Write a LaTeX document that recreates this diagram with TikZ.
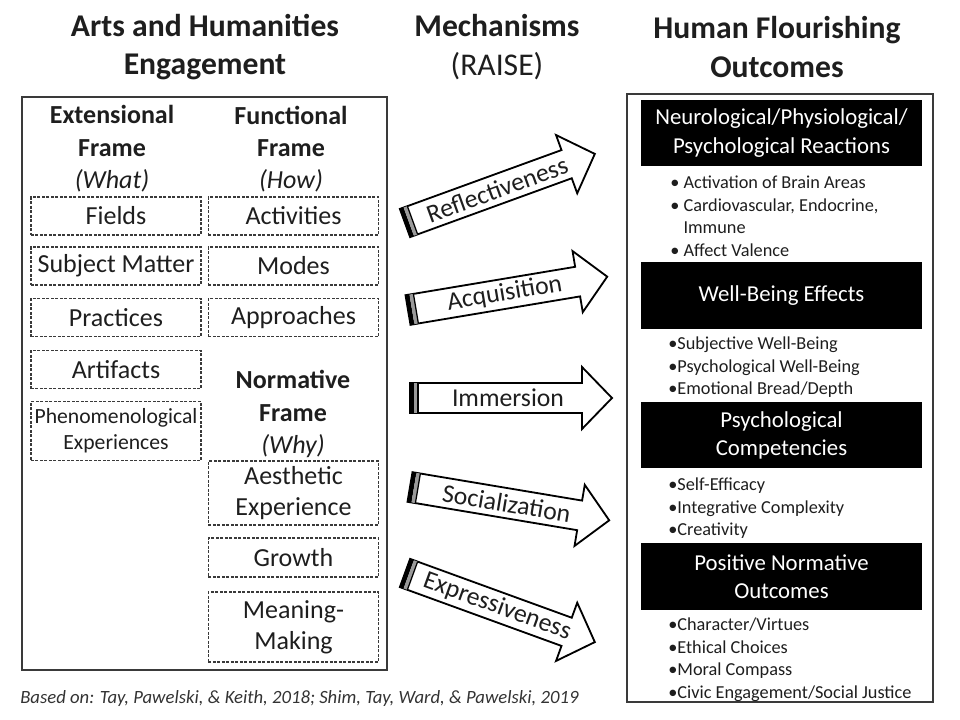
\documentclass[tikz,border=0pt]{standalone}
\usepackage{fontspec}
\setmainfont{Carlito}
\usetikzlibrary{positioning}
\definecolor{inkGrey}{HTML}{1e1e1e}
\definecolor{frameGrey}{HTML}{3a3a3a}
\definecolor{tapeGrey}{HTML}{9a9a9a}
\def\arrowL{202}
\def\shaftW{15}
\def\headW{31}
\def\headL{30}

\begin{document}
\begin{tikzpicture}[
    x=0.025cm, y=-0.025cm,
    every node/.style={inner sep=0pt, text=inkGrey},
    titletext/.style={font=\fontsize{22.5}{27.5}\selectfont\bfseries, align=center},
    framehead/.style={font=\fontsize{18.5}{23}\selectfont, align=center},
    outerbox/.style={draw=frameGrey, line width=1.3pt},
    itembox/.style={draw=frameGrey, line width=0.8pt, dash pattern=on 2pt off 1.2pt,
                    minimum width=4.25cm, minimum height=0.95cm, align=center,
                    font=\fontsize{18.5}{22}\selectfont},
    headbox/.style={fill=black, text=white, minimum width=7.025cm, minimum height=1.65cm,
                    align=center, font=\fontsize{16.2}{20}\selectfont},
    bulletlist/.style={anchor=north west, align=left, font=\fontsize{13}{16}\selectfont},
    blockarrow/.style={draw=black, fill=white, line width=1.3pt, line join=miter},
    mechtext/.style={font=\fontsize{18.3}{22}\selectfont},
    notetext/.style={font=\fontsize{13.3}{16}\selectfont\itshape, text=black!80},
    ]

\useasboundingbox (0,0) rectangle (960,720);

% ====================================================================
% Column titles
% ====================================================================
\node[titletext] (artsTitle)  at (205,47) {Arts and Humanities\\Engagement};
\node[titletext] (mechTitle)  at (497,47) {Mechanisms\\{\mdseries (RAISE)}};
\node[titletext] (flourTitle) at (777,47) {Human Flourishing\\Outcomes};

% ====================================================================
% Left panel — engagement frames
% ====================================================================
\draw[outerbox] (22,97) rectangle (387,670);

\node[framehead] (extHead) at (112,149) {\textbf{Extensional}\\\textbf{Frame}\\\textit{(What)}};
\node[framehead] (funHead) at (291,149) {\textbf{Functional}\\\textbf{Frame}\\\textit{(How)}};
\node[framehead] (norHead) at (293,414) {\textbf{Normative}\\\textbf{Frame}\\\textit{(Why)}};

% Extensional column
\node[itembox] (fields)   at (116,216)   {Fields};
\node[itembox] (subject)  at (116,266)   {Subject Matter};
\node[itembox] (practice) at (116,317.5) {Practices};
\node[itembox] (artifact) at (116,369.5) {Artifacts};
\node[itembox, minimum height=1.475cm, font=\fontsize{15.4}{18.5}\selectfont]
  (phenom) at (116,431) {Phenomenological\\Experiences};

% Functional column
\node[itembox] (activity) at (293.5,216)   {Activities};
\node[itembox] (modes)    at (293.5,266)   {Modes};
\node[itembox] (approach) at (293.5,317.5) {Approaches};

% Normative column
\node[itembox, minimum height=1.6cm]   (aesthetic) at (293.5,493)   {Aesthetic\\Experience};
\node[itembox, minimum height=0.975cm] (growth)    at (293.5,557.5) {Growth};
\node[itembox, minimum height=1.75cm]  (meaning)   at (293.5,627)   {Meaning-\\Making};

% ====================================================================
% Middle — RAISE block arrows (tail band + label along the shaft)
% ====================================================================
\foreach \ang/\tx/\ty/\lbl/\nm in {20/405/223/Reflectiveness/refl,
                                   9.5/408/310/Acquisition/acqu,
                                   0/410/398/Immersion/imme,
                                   -9.5/410/487/Socialization/soci,
                                   -20/405/573/Expressiveness/expr}{
  \begin{scope}[shift={(\tx,\ty)}, rotate=\ang]
    \draw[blockarrow] (0,-\shaftW) -- (\arrowL-\headL,-\shaftW)
      -- (\arrowL-\headL,-\headW) -- (\arrowL,0) -- (\arrowL-\headL,\headW)
      -- (\arrowL-\headL,\shaftW) -- (0,\shaftW) -- cycle;
    \fill[black] (0,-\shaftW) rectangle (4,\shaftW);
    \fill[tapeGrey] (4,-\shaftW) rectangle (8,\shaftW);
    \draw[line width=0.9pt] (8,-\shaftW) -- (8,\shaftW);
    \node[mechtext, rotate=\ang] (\nm) at (98,0) {\lbl};
  \end{scope}
}

% ====================================================================
% Right panel — flourishing outcomes
% ====================================================================
\draw[outerbox] (627,94) rectangle (933,702);

\node[headbox] (neuroHead) at (781.5,133)   {Neurological/Physiological/\\Psychological Reactions};
\node[headbox] (wellHead)  at (781.5,295.5) {Well-Being Effects};
\node[headbox] (compHead)  at (781.5,435)   {Psychological\\Competencies};
\node[headbox] (normHead)  at (781.5,576.5) {Positive Normative\\Outcomes};

\node[bulletlist] (neuroList) at (670,176)
  {• Activation of Brain Areas\\• Cardiovascular, Endocrine,\\\hphantom{• }Immune\\• Affect Valence};
\node[bulletlist] (wellList) at (668,337)
  {•Subjective Well-Being\\•Psychological Well-Being\\•Emotional Bread/Depth};
\node[bulletlist] (compList) at (668,478)
  {•Self-Efficacy\\•Integrative Complexity\\•Creativity};
\node[bulletlist] (normList) at (668,618)
  {•Character/Virtues\\•Ethical Choices\\•Moral Compass\\•Civic Engagement/Social Justice};

% Source note
\node[notetext, anchor=base west] (source) at (20,703)
  {Based on: Tay, Pawelski, \& Keith, 2018; Shim, Tay, Ward, \& Pawelski, 2019};

\end{tikzpicture}
\end{document}
